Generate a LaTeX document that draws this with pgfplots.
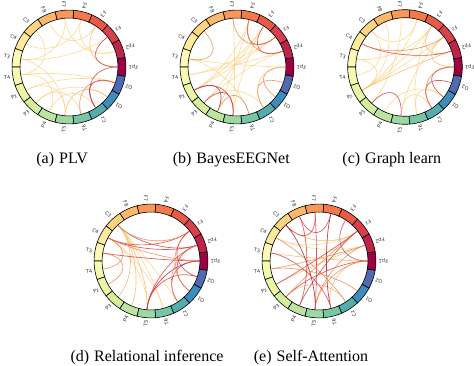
\documentclass[border=0pt]{standalone}
\usepackage{pgfplots}
\pgfplotsset{compat=1.18}
\usepackage{fontspec}
\setmainfont{Liberation Serif}
\newfontfamily\lblfont{DejaVu Sans}
\newcommand\lblsize{\lblfont\fontsize{5}{5.5}\selectfont}
\newcommand\capsize{\fontsize{16}{18}\selectfont}

% ring colours (Spectral, reversed)
\definecolor{s0}{RGB}{158,1,66}
\definecolor{s1}{RGB}{190,36,72}
\definecolor{s2}{RGB}{216,64,76}
\definecolor{s3}{RGB}{232,90,70}
\definecolor{s4}{RGB}{244,120,74}
\definecolor{s5}{RGB}{249,152,88}
\definecolor{s6}{RGB}{252,184,106}
\definecolor{s7}{RGB}{253,212,128}
\definecolor{s8}{RGB}{254,234,156}
\definecolor{s9}{RGB}{254,249,182}
\definecolor{s10}{RGB}{246,251,178}
\definecolor{s11}{RGB}{233,246,163}
\definecolor{s12}{RGB}{214,238,155}
\definecolor{s13}{RGB}{188,228,160}
\definecolor{s14}{RGB}{156,215,164}
\definecolor{s15}{RGB}{118,197,165}
\definecolor{s16}{RGB}{84,172,172}
\definecolor{s17}{RGB}{60,140,190}
\definecolor{s18}{RGB}{78,106,176}
% chord colours
\definecolor{cP}{RGB}{252,212,136}
\definecolor{cL}{RGB}{249,184,104}
\definecolor{cO}{RGB}{240,134,76}
\definecolor{cR}{RGB}{212,60,62}
\definecolor{cD}{RGB}{170,22,56}

\newcommand\ringall{%
  \foreach \k in {0,...,18}{%
    \pgfmathsetmacro\rca{(\k-0.5)*360/19}%
    \gdef\cc{}%
    \foreach \s in {0,...,6}{%
      \pgfmathsetmacro\an{\rca+\s*360/19/6}%
      \pgfmathsetmacro\px{cos(\an)}\pgfmathsetmacro\py{sin(\an)}%
      \xdef\cc{\cc(\px,\py)}}%
    \foreach \s in {6,...,0}{%
      \pgfmathsetmacro\an{\rca+\s*360/19/6}%
      \pgfmathsetmacro\px{0.86*cos(\an)}\pgfmathsetmacro\py{0.86*sin(\an)}%
      \xdef\cc{\cc(\px,\py)}}%
    \edef\tmp{\noexpand\addplot[fill=s\k,draw=black,line width=0.6pt] coordinates {\cc} -- cycle;}\tmp
  }%
  \foreach \k/\n in {0/Fp1,1/Fp2,2/Fz,3/F3,4/F4,5/F7,6/F8,7/C3,8/C4,9/T3,10/T4,11/Pz,12/P3,13/P4,14/T5,15/T6,16/Cz,17/O1,18/O2}{%
    \pgfmathsetmacro\an{\k*360/19}%
    \pgfmathsetmacro\px{1.04*cos(\an)}\pgfmathsetmacro\py{1.04*sin(\an)}%
    \pgfmathsetmacro\rot{\an-180}%
    \edef\tmp{\noexpand\node[rotate=\rot,anchor=east,inner sep=0.3pt,font=\noexpand\lblsize,text=black!80] at (axis cs:\px,\py) {\n};}\tmp}%
}

\newcommand\chord[3]{%
  \pgfmathsetmacro\cA{cos(#1*360/19)}\pgfmathsetmacro\sA{sin(#1*360/19)}%
  \pgfmathsetmacro\cB{cos(#2*360/19)}\pgfmathsetmacro\sB{sin(#2*360/19)}%
  \gdef\cc{}%
  \foreach \s in {0,...,20}{%
    \pgfmathsetmacro\tq{\s/20}%
    \pgfmathsetmacro\wa{0.85*((1-\tq)^3+1.5*(1-\tq)^2*\tq)}%
    \pgfmathsetmacro\wb{0.85*(1.5*(1-\tq)*\tq^2+\tq^3)}%
    \pgfmathsetmacro\px{\wa*\cA+\wb*\cB}%
    \pgfmathsetmacro\py{\wa*\sA+\wb*\sB}%
    \xdef\cc{\cc(\px,\py)}}%
  \edef\tmp{\noexpand\addplot[draw=#3,line width=0.65pt,opacity=0.85,smooth] coordinates {\cc};}\tmp}

\pgfplotsset{chordax/.style={anchor=center, scale only axis, width=148pt, height=148pt,
  xmin=-1.3,xmax=1.3,ymin=-1.3,ymax=1.3, hide axis, clip=false}}

\begin{document}
\begin{tikzpicture}
\useasboundingbox (0pt,0pt) rectangle (474pt,366pt);
% (a) PLV
\begin{axis}[chordax, at={(69pt,299pt)}]
\chord{5}{9}{cP}\chord{4}{8}{cP}\chord{6}{3}{cP}\chord{5}{1}{cP}\chord{3}{0}{cL}
\chord{9}{2}{cP}\chord{7}{10}{cP}\chord{10}{18}{cP}\chord{11}{18}{cP}\chord{12}{17}{cP}
\chord{13}{16}{cP}\chord{14}{17}{cL}\chord{14}{11}{cP}\chord{13}{10}{cP}\chord{15}{12}{cP}
\chord{9}{14}{cP}\chord{4}{1}{cP}\chord{2}{0}{cR}\chord{18}{16}{cD}\chord{0}{16}{cR}\chord{18}{15}{cO}
\ringall
\node at (axis cs:-0.12,-1.63) {\capsize (a)\hspace{5pt}PLV};
\end{axis}
% (b) BayesEEGNet
\begin{axis}[chordax, at={(237pt,299pt)}]
\chord{3}{12}{cP}\chord{3}{11}{cP}\chord{4}{13}{cP}\chord{2}{10}{cP}\chord{1}{12}{cP}
\chord{3}{14}{cP}\chord{2}{11}{cP}\chord{4}{11}{cP}\chord{9}{15}{cP}\chord{10}{1}{cP}
\chord{5}{14}{cP}\chord{9}{0}{cP}\chord{16}{12}{cP}
\chord{4}{2}{cR}\chord{4}{1}{cO}\chord{3}{1}{cR}\chord{5}{2}{cO}\chord{7}{9}{cO}
\chord{11}{13}{cD}\chord{12}{14}{cR}\chord{11}{14}{cR}\chord{13}{15}{cO}
\chord{0}{17}{cO}\chord{18}{16}{cO}\chord{0}{16}{cL}
\ringall
\node at (axis cs:-0.1,-1.63) {\capsize (b)\hspace{5pt}BayesEEGNet};
\end{axis}
% (c) Graph learn
\begin{axis}[chordax, at={(405pt,299pt)}, width=149pt, height=149pt]
\chord{7}{4}{cP}\chord{9}{3}{cP}\chord{11}{4}{cP}\chord{11}{3}{cP}\chord{11}{2}{cP}
\chord{12}{5}{cP}\chord{11}{6}{cP}\chord{10}{7}{cP}\chord{9}{11}{cP}\chord{15}{3}{cP}
\chord{14}{2}{cP}\chord{15}{17}{cP}\chord{13}{17}{cP}\chord{16}{14}{cP}
\chord{11}{1}{cL}\chord{2}{0}{cL}\chord{3}{1}{cL}
\chord{8}{1}{cR}\chord{8}{2}{cO}\chord{18}{16}{cR}\chord{0}{17}{cR}\chord{0}{16}{cO}\chord{12}{14}{cR}
\ringall
\node at (axis cs:-0.23,-1.62) {\capsize (c)\hspace{5pt}Graph learn};
\end{axis}
% (d) Relational inference
\begin{axis}[chordax, at={(151pt,105pt)}]
\chord{7}{13}{cL}\chord{7}{14}{cL}\chord{7}{15}{cP}\chord{7}{16}{cP}\chord{7}{12}{cL}
\chord{8}{14}{cP}\chord{8}{15}{cP}
\chord{8}{10}{cO}\chord{9}{11}{cO}
\chord{7}{1}{cR}\chord{8}{2}{cR}\chord{8}{1}{cR}\chord{9}{0}{cR}\chord{8}{0}{cO}\chord{7}{2}{cO}
\chord{14}{0}{cD}\chord{14}{1}{cR}\chord{14}{18}{cR}
\chord{0}{16}{cR}\chord{1}{17}{cR}\chord{1}{16}{cO}\chord{17}{2}{cO}\chord{2}{18}{cR}
\ringall
\node at (axis cs:-0.07,-1.7) {\capsize (d)\hspace{5pt}Relational inference};
\end{axis}
% (e) Self-Attention
\begin{axis}[chordax, at={(319pt,105pt)}]
\chord{8}{1}{cP}\chord{8}{2}{cP}\chord{7}{2}{cL}\chord{9}{0}{cL}\chord{1}{11}{cL}\chord{15}{0}{cL}\chord{12}{16}{cL}
\chord{5}{7}{cR}\chord{6}{4}{cR}\chord{5}{14}{cR}\chord{4}{15}{cD}\chord{9}{15}{cR}
\chord{8}{16}{cO}\chord{2}{11}{cR}\chord{1}{10}{cO}\chord{0}{12}{cR}\chord{2}{12}{cO}
\chord{0}{14}{cO}\chord{3}{0}{cR}\chord{13}{2}{cR}\chord{14}{1}{cO}\chord{6}{13}{cR}
\chord{7}{14}{cD}\chord{10}{17}{cO}
\ringall
\node at (axis cs:-0.14,-1.7) {\capsize (e)\hspace{5pt}Self-Attention};
\end{axis}
\end{tikzpicture}
\end{document}
